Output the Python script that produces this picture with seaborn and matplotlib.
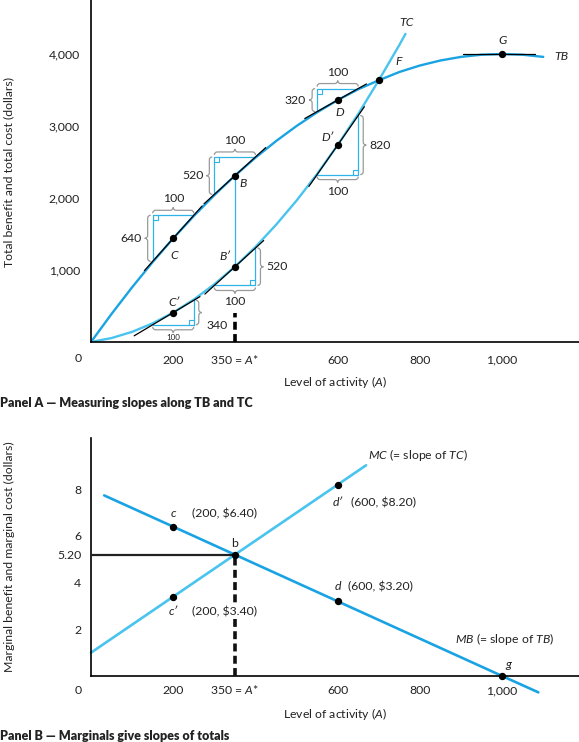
import numpy as np
import matplotlib
matplotlib.use("Agg")
import matplotlib.pyplot as plt
import seaborn as sns
from matplotlib.path import Path
from matplotlib.patches import PathPatch

# ---- values ----
activity = [0, 50, 100, 150, 200, 250, 300, 350, 400, 450, 500, 550,
            600, 650, 700, 750, 800, 850, 900, 950, 1000, 1050, 1100]
total_benefit = [0, 390, 760, 1110, 1440, 1750, 2040, 2310, 2560, 2790, 3000, 3190,
                 3360, 3510, 3635, 3750, 3840, 3910, 3960, 3990, 4000, 3990, 3960]
tc_activity = [0, 50, 100, 150, 200, 250, 300, 350, 400, 450, 500, 550,
               600, 650, 700, 750, 765]
total_cost = [0, 55, 141, 259, 409, 589, 802, 1045, 1320, 1627, 1964, 2333,
              2735, 3167, 3635, 4125, 4280]

tb_names = ["C", "B", "D", "F", "G"]
tb_x = [200, 350, 600, 700, 1000]
tb_y = [1440, 2310, 3360, 3635, 4000]
tc_names = ["C\u2032", "B\u2032", "D\u2032"]
tc_x = [200, 350, 600]
tc_y = [409, 1045, 2735]

run = 100
tb_rise = [640, 520, 320]      # rise over run at C, B, D
tc_rise = [340, 520, 820]      # rise over run at C', B', D'
tb_span = [(130, 270), (275, 425), (520, 670)]
tc_span = [(105, 265), (277, 420), (530, 665)]
g_span = (905, 1080)

mb_x = [32, 200, 350, 600, 1000, 1088]
mb_y = [7.74, 6.4, 5.2, 3.2, 0.0, -0.70]
mc_x = [0, 200, 350, 600, 669]
mc_y = [1.0, 3.4, 5.2, 8.2, 9.03]
pb_names = ["c", "b", "d", "g", "c\u2032", "d\u2032"]
pb_x = [200, 350, 600, 1000, 200, 600]
pb_y = [6.4, 5.2, 3.2, 0.0, 3.4, 8.2]
pb_notes = ["(200, $6.40)", None, "(600, $3.20)", None, "(200, $3.40)", "(600, $8.20)"]

a_star = 350
x_ticks = [200, 350, 600, 800, 1000]
x_labels = ["200", "350 = $A$*", "600", "800", "1,000"]

DARK = "#1aa3e3"
LIGHT = "#49c4ee"
BOX = "#2fb3e8"
GREY = "#9a9a9a"
INK = "#222222"
FS = 8.8

sns.set_theme(style="white")
plt.rcParams["font.family"] = ["Lato", "DejaVu Sans"]
plt.rcParams["mathtext.fontset"] = "custom"
plt.rcParams["mathtext.it"] = "Lato:italic"
plt.rcParams["mathtext.rm"] = "Lato"
plt.rcParams["font.size"] = FS

W, H = 579, 742
fig = plt.figure(figsize=(W / 100, H / 100), dpi=100)


def rect(x0, y0, x1, y1):
    # pixel box (top-left origin) -> figure fraction
    return [x0 / W, 1 - y1 / H, (x1 - x0) / W, (y1 - y0) / H]


def brace(ax, p1, p2, side, text, fs=FS, gap=2, depth=6, pad=3):
    d1 = ax.transData.transform(p1)
    d2 = ax.transData.transform(p2)
    L = np.hypot(*(d2 - d1))
    u = (d2 - d1) / L
    n = np.array([-u[1], u[0]]) * side
    h = depth / 2
    r = min(3, L / 4)
    local = [(0, 0), (0, h), (r, h), (L / 2 - r, h), (L / 2, h), (L / 2, 2 * h),
             (L / 2, h), (L / 2 + r, h), (L - r, h), (L, h), (L, 0)]
    codes = [Path.MOVETO, Path.CURVE3, Path.CURVE3, Path.LINETO, Path.CURVE3, Path.CURVE3,
             Path.CURVE3, Path.CURVE3, Path.LINETO, Path.CURVE3, Path.CURVE3]
    disp = np.array([d1 + a * u + (b + gap) * n for a, b in local])
    verts = ax.transData.inverted().transform(disp)
    ax.add_patch(PathPatch(Path(verts, codes), fill=False, ec=GREY, lw=0.9,
                           transform=ax.transData, clip_on=False, zorder=3))
    tip = d1 + (L / 2) * u + (gap + depth + pad) * n
    tx, ty = ax.transData.inverted().transform(tip)
    ha = "right" if n[0] < -0.5 else ("left" if n[0] > 0.5 else "center")
    va = "bottom" if n[1] > 0.5 else ("top" if n[1] < -0.5 else "center")
    return ax.text(tx, ty, text, ha=ha, va=va, fontsize=fs, color=INK, zorder=6)


def corner(ax, pt, sx, sy, s=5):
    d = ax.transData.transform(pt)
    pts = np.array([d + (sx * s, 0), d + (sx * s, sy * s), d + (0, sy * s)])
    xy = ax.transData.inverted().transform(pts)
    ax.plot(xy[:, 0], xy[:, 1], color=BOX, lw=0.8, zorder=3)


def style_axes(ax, label_pad):
    sns.despine(ax=ax)
    for s in ("left", "bottom"):
        ax.spines[s].set_color("black")
        ax.spines[s].set_linewidth(1.2)
    ax.set_facecolor("white")
    ax.set_xticks(x_ticks)
    ax.set_xticklabels(x_labels)
    ax.set_xticks(np.arange(100, 1100, 100), minor=True)
    ax.tick_params(axis="x", which="major", length=0, pad=label_pad, labelsize=FS,
                   colors=INK)
    ax.tick_params(axis="x", which="minor", direction="in", length=5, width=0.9,
                   color="black")
    for lab in ax.get_xticklabels():
        lab.set_verticalalignment("baseline")


# ---------------- Panel A ----------------
axA = fig.add_axes(rect(91, 0, 579, 342))
axA.set_xlim(0, 1187)
axA.set_ylim(0, 4750)
style_axes(axA, 15.5)
axA.set_yticks([1000, 2000, 3000, 4000])
axA.set_yticklabels(["1,000", "2,000", "3,000", "4,000"])
axA.set_yticks([500, 1500, 2500, 3500], minor=True)
axA.tick_params(axis="y", which="both", direction="in", length=5, width=0.9,
                color="black", pad=8, labelsize=FS, labelcolor=INK)

sns.lineplot(x=activity, y=total_benefit, ax=axA, color=DARK, lw=1.7, zorder=2)
sns.lineplot(x=tc_activity, y=total_cost, ax=axA, color=LIGHT, lw=1.7, zorder=2)

# tangents, boxes and braces on TB
for a, p, rise, (s0, s1) in zip(tb_x[:3], tb_y[:3], tb_rise, tb_span):
    k = rise / run
    axA.plot([s0, s1], [p + k * (s0 - a), p + k * (s1 - a)], color="black", lw=0.9, zorder=4)
    x0, x1 = a - run / 2, a + run / 2
    y0, y1 = p - rise / 2, p + rise / 2
    axA.plot([x0, x0, x1], [y0, y1, y1], color=BOX, lw=0.9, zorder=3)
    corner(axA, (x0, y1), 1, -1)
    brace(axA, (x0, y0), (x0, y1), 1, str(rise))
    brace(axA, (x0, y1), (x1, y1), 1, str(run))
axA.plot(g_span, [tb_y[4], tb_y[4]], color="black", lw=0.9, zorder=4)

# tangents, boxes and braces on TC
for i, (a, p, rise, (s0, s1)) in enumerate(zip(tc_x, tc_y, tc_rise, tc_span)):
    k = rise / run
    axA.plot([s0, s1], [p + k * (s0 - a), p + k * (s1 - a)], color="black", lw=0.9, zorder=4)
    x0, x1 = a - run / 2, a + run / 2
    y0, y1 = p - rise / 2, p + rise / 2
    axA.plot([x0, x1, x1], [y0, y0, y1], color=BOX, lw=0.9, zorder=3)
    corner(axA, (x1, y0), -1, 1)
    if i == 0:
        t = brace(axA, (x0, y0), (x1, y0), -1, str(run), fs=5.8, pad=1)
        t.set_bbox(dict(fc="white", ec="none", pad=0.3))
        t2 = brace(axA, (x1, y0), (x1, y1), -1, "", pad=1)
        t2.set_text(str(rise))
        t2.set_position((t2.get_position()[0] + 10, t2.get_position()[1] - 186))
    else:
        brace(axA, (x0, y0), (x1, y0), -1, str(run))
        brace(axA, (x1, y0), (x1, y1), -1, str(rise))

# B to B' and the dashed A* marker
axA.plot([a_star, a_star], [tc_y[1], tb_y[1]], color=BOX, lw=0.9, zorder=3)
axA.plot([a_star, a_star], [0, 400], color="black", lw=2.6, dashes=(2.2, 1.2),
         zorder=4, clip_on=False)

sns.scatterplot(x=tb_x + tc_x, y=tb_y + tc_y, ax=axA, color="black", s=28,
                linewidth=0, zorder=6)

offsets_tb = [(1, -17), (8, -8), (2, -12), (20, 19), (0, 14)]
for name, x, y, off in zip(tb_names, tb_x, tb_y, offsets_tb):
    axA.annotate(name, (x, y), xytext=off, textcoords="offset pixels", ha="center",
                 va="center", fontsize=FS, style="italic", color=INK)
offsets_tc = [(1, 10), (-10, 10), (-10, 8)]
for name, x, y, off in zip(tc_names, tc_x, tc_y, offsets_tc):
    axA.annotate(name, (x, y), xytext=off, textcoords="offset pixels", ha="center",
                 va="center", fontsize=FS, style="italic", color=INK)
axA.annotate("TC", (tc_activity[-1], total_cost[-1]), xytext=(1, 11), textcoords="offset pixels",
             ha="center", va="center", fontsize=FS, style="italic", color=INK)
axA.annotate("TB", (activity[-1], total_benefit[-1]), xytext=(11, 0), textcoords="offset pixels",
             ha="left", va="center", fontsize=FS, style="italic", color=INK)

# ---------------- Panel B ----------------
axB = fig.add_axes(rect(91, 438, 579, 676))
axB.set_xlim(0, 1187)
axB.set_ylim(0, 10.2)
style_axes(axB, 13)
axB.set_yticks([2, 4, 5.2, 6, 8])
axB.set_yticklabels(["2", "4", "5.20", "6", "8"])
axB.tick_params(axis="y", which="major", direction="out", length=5, width=0.9,
                color="black", pad=2, labelsize=FS, labelcolor=INK)

sns.lineplot(x=mb_x, y=mb_y, ax=axB, color=DARK, lw=1.9, zorder=2)
sns.lineplot(x=mc_x, y=mc_y, ax=axB, color=LIGHT, lw=1.9, zorder=2)
for ln in axB.lines:
    ln.set_clip_on(False)

axB.plot([0, a_star], [5.2, 5.2], color=INK, lw=1.6, zorder=3)
axB.plot([a_star, a_star], [0, 5.2], color="#111111", lw=2.6, dashes=(2.2, 1.2), zorder=3)

sns.scatterplot(x=pb_x, y=pb_y, ax=axB, color="black", s=28, linewidth=0,
                zorder=6, clip_on=False)

name_off = [(0, 13), (0, 11), (0, 15), (6, 12), (0, -15), (0, -18)]
note_off = [(19, 13), None, (10, 15), None, (19, -15), (13, -18)]
for name, x, y, no, to, note in zip(pb_names, pb_x, pb_y, name_off, note_off, pb_notes):
    st = "normal" if name == "b" else "italic"
    axB.annotate(name, (x, y), xytext=no, textcoords="offset pixels", ha="center",
                 va="center", fontsize=FS, style=st, color=INK)
    if note:
        axB.annotate(note, (x, y), xytext=to, textcoords="offset pixels", ha="left",
                     va="center", fontsize=FS, color=INK, zorder=7,
                     bbox=dict(fc="white", ec="none", pad=1))
axB.annotate("$MC$ (= slope of $TC$)", (mc_x[-1], mc_y[-1]), xytext=(2, 10),
             textcoords="offset pixels", ha="left", va="center", fontsize=FS, color=INK)
axB.text(886, 1.6, "$MB$ (= slope of $TB$)", ha="left", va="center", fontsize=FS, color=INK)

# ---------------- figure texts ----------------
def ftext(x, y, s, **kw):
    fig.text(x / W, 1 - y / H, s, color=INK, **kw)


ftext(78, 359, "0", ha="center", va="center", fontsize=FS)
ftext(78, 690, "0", ha="center", va="center", fontsize=FS)
ftext(335, 382, "Level of activity ($A$)", ha="center", va="center", fontsize=FS)
ftext(335, 714, "Level of activity ($A$)", ha="center", va="center", fontsize=FS)
ftext(0, 403, "Panel A \u2014 Measuring slopes along TB and TC", ha="left", va="center",
      fontsize=9, fontweight="heavy")
ftext(0, 736, "Panel B \u2014 Marginals give slopes of totals", ha="left", va="center",
      fontsize=9, fontweight="heavy")
ftext(9, 172, "Total benefit and total cost (dollars)", ha="center", va="center",
      fontsize=FS, rotation=90)
ftext(9, 557, "Marginal benefit and marginal cost (dollars)", ha="center", va="center",
      fontsize=FS, rotation=90)

fig.savefig("out.png", dpi=100)
